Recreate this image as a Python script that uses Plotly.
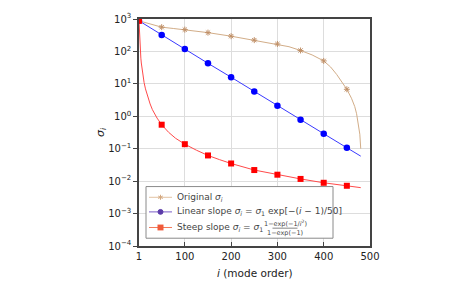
import plotly.graph_objects as go

# ---------------- data ----------------
mark_i = [1, 50, 100, 150, 200, 250, 300, 350, 400, 450]

orig_curve_i = [1, 25, 50, 75, 100, 150, 200, 250, 300, 325, 350, 375, 400, 415, 428, 440, 450,
                460, 467, 471, 475, 478, 480]
orig_curve = [880, 700, 560, 510, 470, 380, 295, 223, 170, 140, 107, 78, 51, 33, 19.5, 11, 6.8,
              3.6, 2.0, 1.2, 0.59, 0.28, 0.1]
orig_marks = [880, 560, 470, 380, 295, 223, 170, 107, 51, 6.8]

lin_curve_i = [1, 50, 100, 150, 200, 250, 300, 350, 400, 450, 480]
lin_curve = [880, 320, 118, 43, 16, 5.8, 2.1, 0.78, 0.29, 0.107, 0.059]
lin_marks = [880, 320, 118, 43, 16, 5.8, 2.1, 0.78, 0.29, 0.107]

steep_curve_i = [1, 2, 3, 4, 5, 6, 8, 10, 12, 15, 20, 25, 30, 40, 50, 65, 80, 100, 125, 150, 175,
                 200, 250, 300, 350, 400, 450, 480]
steep_curve = [880, 330, 160, 95, 62, 44, 25, 16, 11, 7, 3.8, 2.4, 1.6, 0.88, 0.55, 0.32, 0.21,
               0.138, 0.09, 0.062, 0.046, 0.035, 0.022, 0.0158, 0.0117, 0.0089, 0.0072, 0.0063]
steep_marks = [880, 0.55, 0.138, 0.062, 0.035, 0.022, 0.0158, 0.0117, 0.0089, 0.0072]

x_ticks = [1, 100, 200, 300, 400, 500]
y_ticks = [1e-4, 1e-3, 1e-2, 1e-1, 1e0, 1e1, 1e2, 1e3]
y_ticktext = ["10<sup>−4</sup>", "10<sup>−3</sup>", "10<sup>−2</sup>", "10<sup>−1</sup>",
              "10<sup>0</sup>", "10<sup>1</sup>", "10<sup>2</sup>", "10<sup>3</sup>"]

legend_labels = [
    "Original <i>σ<sub>i</sub></i>",
    "Linear slope <i>σ<sub>i</sub></i> = <i>σ</i><sub>1</sub> exp[−(<i>i</i> − 1)/50]",
    "Steep slope <i>σ<sub>i</sub></i> = <i>σ</i><sub>1</sub>",
]
frac_num = "1−exp(−1/<i>i</i><sup>2</sup>)"
frac_den = "1−exp(−1)"

# ---------------- styles ----------------
TAN_L, TAN_M = "#d2ad88", "#c09068"
BLUE_L, BLUE_M = "#3a3aff", "#0000ff"
RED_L, RED_M = "#ff4a4a", "#ff0000"
FONT = "DejaVu Sans"

W, H = 474, 292
L, R, T, B = 139, 104, 13, 46
PW, PH = W - L - R, H - T - B


def PX(px):
    return (px - L) / PW


def PY(py):
    return (H - B - py) / PH


fig = go.Figure()

fig.add_trace(go.Scatter(x=orig_curve_i, y=orig_curve, mode="lines",
                         line=dict(color=TAN_L, width=1), showlegend=False, hoverinfo="skip"))
fig.add_trace(go.Scatter(x=mark_i, y=orig_marks, mode="markers",
                         marker=dict(symbol="asterisk-open", size=5, color=TAN_M,
                                     line=dict(color=TAN_M, width=1)), showlegend=False))
fig.add_trace(go.Scatter(x=lin_curve_i, y=lin_curve, mode="lines",
                         line=dict(color=BLUE_L, width=1), showlegend=False, hoverinfo="skip"))
fig.add_trace(go.Scatter(x=mark_i, y=lin_marks, mode="markers",
                         marker=dict(symbol="circle", size=6.5, color=BLUE_M), showlegend=False))
fig.add_trace(go.Scatter(x=steep_curve_i, y=steep_curve, mode="lines",
                         line=dict(color=RED_L, width=1), showlegend=False, hoverinfo="skip"))
fig.add_trace(go.Scatter(x=mark_i, y=steep_marks, mode="markers",
                         marker=dict(symbol="square", size=6, color=RED_M), showlegend=False))

shapes = []
annotations = []

# legend box
shapes.append(dict(type="rect", xref="paper", yref="paper",
                   x0=PX(146), x1=PX(333), y0=PY(238), y1=PY(185),
                   fillcolor="white", line=dict(color="#8a8a8a", width=1), layer="above"))
rows_y = [196, 211, 227]
leg_line_cols = ["#e2c2a2", "#7a5cc8", "#f27a5a"]
for yy, c in zip(rows_y, leg_line_cols):
    shapes.append(dict(type="line", xref="paper", yref="paper", x0=PX(149), x1=PX(172),
                       y0=PY(yy), y1=PY(yy), line=dict(color=c, width=1), layer="above"))
# star glyph (three strokes)
cx, cy, r = 160.5, rows_y[0], 2.6
for dx, dy in [(0, r), (r * 0.87, r * 0.5), (r * 0.87, -r * 0.5)]:
    shapes.append(dict(type="line", xref="paper", yref="paper", x0=PX(cx - dx), x1=PX(cx + dx),
                       y0=PY(cy - dy), y1=PY(cy + dy), line=dict(color="#d4a880", width=1),
                       layer="above"))
# circle glyph
shapes.append(dict(type="circle", xref="paper", yref="paper", x0=PX(158), x1=PX(163),
                   y0=PY(rows_y[1] + 2.5), y1=PY(rows_y[1] - 2.5),
                   fillcolor="#5a3aa8", line=dict(color="#5a3aa8", width=1), layer="above"))
# square glyph
shapes.append(dict(type="rect", xref="paper", yref="paper", x0=PX(157.5), x1=PX(163.5),
                   y0=PY(rows_y[2] + 3), y1=PY(rows_y[2] - 3),
                   fillcolor="#f05a3a", line=dict(color="#f05a3a", width=0), layer="above"))
for yy, txt in zip(rows_y, legend_labels):
    annotations.append(dict(xref="paper", yref="paper", x=PX(175), y=PY(yy), text=txt,
                            showarrow=False, xanchor="left", yanchor="middle",
                            font=dict(family=FONT, size=9, color="#444444")))
# fraction
annotations.append(dict(xref="paper", yref="paper", x=PX(285), y=PY(223), text=frac_num,
                        showarrow=False, xanchor="center", yanchor="middle",
                        font=dict(family=FONT, size=6.5, color="#444444")))
annotations.append(dict(xref="paper", yref="paper", x=PX(285), y=PY(232.3), text=frac_den,
                        showarrow=False, xanchor="center", yanchor="middle",
                        font=dict(family=FONT, size=6.5, color="#444444")))
shapes.append(dict(type="line", xref="paper", yref="paper", x0=PX(272.5), x1=PX(297.5),
                   y0=PY(227.7), y1=PY(227.7), line=dict(color="#666666", width=0.8),
                   layer="above"))

# axis titles
annotations.append(dict(xref="paper", yref="paper", x=PX(255), y=PY(274),
                        text="<i>i</i> (mode order)", showarrow=False,
                        xanchor="center", yanchor="middle",
                        font=dict(family=FONT, size=10.5, color="#222222")))
annotations.append(dict(xref="paper", yref="paper", x=PX(101), y=PY(129),
                        text="<i>σ<sub>i</sub></i>", showarrow=False, textangle=-90,
                        xanchor="center", yanchor="middle",
                        font=dict(family=FONT, size=11, color="#222222")))

fig.update_layout(
    width=W, height=H,
    margin=dict(l=L, r=R, t=T, b=B, pad=0),
    paper_bgcolor="white", plot_bgcolor="white",
    font=dict(family=FONT, size=10, color="#222222"),
    showlegend=False,
    shapes=shapes, annotations=annotations,
)
fig.update_xaxes(range=[1, 500], tickvals=x_ticks, ticktext=[str(v) for v in x_ticks],
                 showgrid=True, gridcolor="#dddddd", gridwidth=1, zeroline=False,
                 showline=True, linecolor="#444444", linewidth=1.5, mirror=True,
                 ticks="inside", ticklen=4, tickcolor="#444444",
                 tickfont=dict(family=FONT, size=10, color="#222222"))
fig.update_yaxes(type="log", range=[-4, 3], tickvals=y_ticks, ticktext=y_ticktext,
                 showgrid=True, gridcolor="#dddddd", gridwidth=1, zeroline=False,
                 showline=True, linecolor="#444444", linewidth=1.5, mirror=True,
                 ticks="outside", ticklen=4, tickcolor="#444444",
                 tickfont=dict(family=FONT, size=10, color="#222222"))

fig.write_html("out.html")
